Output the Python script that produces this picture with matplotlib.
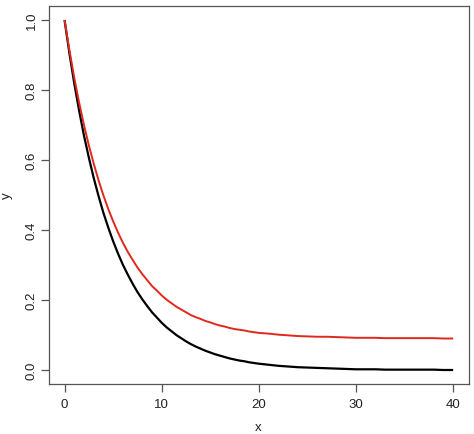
import numpy as np
import matplotlib
matplotlib.use("Agg")
import matplotlib.pyplot as plt

plt.rcParams['font.family'] = ['Liberation Sans', 'DejaVu Sans']

# values (half steps up to x = 20, whole steps after)
x = [0, 0.5, 1, 1.5, 2, 2.5, 3, 3.5, 4, 4.5, 5, 5.5, 6, 6.5, 7, 7.5, 8, 8.5, 9, 9.5,
     10, 10.5, 11, 11.5, 12, 12.5, 13, 13.5, 14, 14.5, 15, 15.5, 16, 16.5, 17, 17.5,
     18, 18.5, 19, 19.5, 20, 21, 22, 23, 24, 25, 26, 27, 28, 29, 30, 31, 32, 33, 34,
     35, 36, 37, 38, 39, 40]
y_black = [1.000, 0.905, 0.819, 0.741, 0.670, 0.607, 0.549, 0.497, 0.449, 0.407,
           0.368, 0.333, 0.301, 0.273, 0.247, 0.223, 0.202, 0.183, 0.165, 0.150,
           0.135, 0.122, 0.111, 0.100, 0.091, 0.082, 0.074, 0.067, 0.061, 0.055,
           0.050, 0.045, 0.041, 0.037, 0.033, 0.030, 0.027, 0.025, 0.022, 0.020,
           0.018, 0.015, 0.012, 0.010, 0.008, 0.007, 0.006, 0.005, 0.004, 0.003,
           0.002, 0.002, 0.002, 0.001, 0.001, 0.001, 0.001, 0.001, 0.001, 0.000,
           0.000]
y_red = [1.000, 0.914, 0.835, 0.764, 0.700, 0.642, 0.590, 0.542, 0.499, 0.460,
         0.425, 0.393, 0.364, 0.338, 0.315, 0.293, 0.274, 0.257, 0.240, 0.227,
         0.213, 0.201, 0.191, 0.181, 0.173, 0.165, 0.157, 0.151, 0.146, 0.140,
         0.136, 0.131, 0.127, 0.124, 0.120, 0.117, 0.115, 0.113, 0.110, 0.108,
         0.106, 0.104, 0.101, 0.099, 0.097, 0.096, 0.095, 0.095, 0.094, 0.093,
         0.092, 0.092, 0.092, 0.091, 0.091, 0.091, 0.091, 0.091, 0.091, 0.090,
         0.090]
xticks = [0, 10, 20, 30, 40]
yticks = [0.0, 0.2, 0.4, 0.6, 0.8, 1.0]

fig = plt.figure(figsize=(4.74, 4.35), dpi=100)
ax = fig.add_axes([49 / 474, 50 / 435, (468.7 - 49) / 474, (385 - 7) / 435])

ax.plot(x, y_black, color='black', lw=1.6, solid_capstyle='butt')
ax.plot(x, y_red, color='#e0281c', lw=1.4, solid_capstyle='butt')

ax.set_xlim(-1.6, 41.6)
ax.set_ylim(-0.04, 1.04)
ax.set_xticks(xticks)
ax.set_xticklabels([str(t) for t in xticks])
ax.set_yticks(yticks)
ax.set_yticklabels(['%.1f' % t for t in yticks], rotation=90, va='center')

for s in ax.spines.values():
    s.set_color('#555555')
    s.set_linewidth(0.9)
ax.tick_params(length=6, width=0.9, color='#555555', labelsize=9.5,
               labelcolor='#222222', pad=4)
ax.tick_params(axis='y', pad=2)

ax.set_xlabel('x', fontsize=9.5, color='#222222', va='center')
ax.set_ylabel('y', fontsize=9.5, color='#222222', va='center')
ax.xaxis.set_label_coords((258 - 49) / 419.7, (385 - 428) / 378)
ax.yaxis.set_label_coords((7 - 49) / 419.7, (385 - 196) / 378)

fig.savefig('out.png', dpi=100)
